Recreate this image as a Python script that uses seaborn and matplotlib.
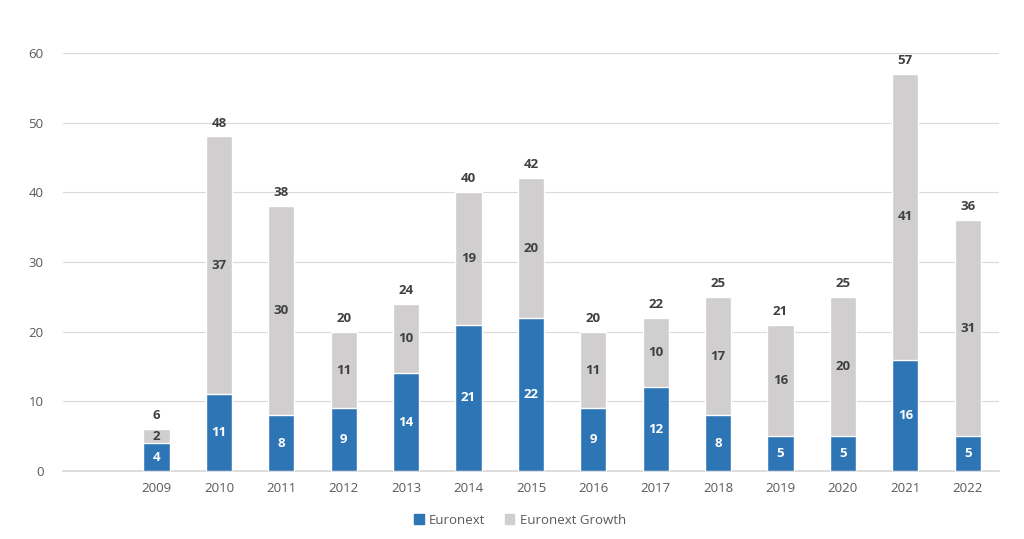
import matplotlib
matplotlib.use("Agg")
import matplotlib.pyplot as plt
import matplotlib.patches as mpatches
import numpy as np
import pandas as pd
import seaborn as sns

# first slot is left empty in the original chart
years = ["", "2009", "2010", "2011", "2012", "2013", "2014", "2015",
         "2016", "2017", "2018", "2019", "2020", "2021", "2022"]
euronext = [np.nan, 4, 11, 8, 9, 14, 21, 22, 9, 12, 8, 5, 5, 16, 5]
growth = [np.nan, 2, 37, 30, 11, 10, 19, 20, 11, 10, 17, 16, 20, 41, 31]

BLUE = "#2E75B6"
GREY = "#D0CECE"
TICK = "#595959"
DARK = "#404040"

df = pd.DataFrame({"year": years, "euronext": euronext, "growth": growth})
df["total"] = df["euronext"] + df["growth"]

sns.set_theme(style="white")
plt.rcParams["font.family"] = ["Open Sans", "DejaVu Sans"]

fig = plt.figure(figsize=(10.24, 5.39), dpi=100)
ax = fig.add_axes([0.0615, 0.126, 0.914, 0.776])

sns.barplot(data=df, x="year", y="total", order=years, color=GREY,
            width=0.42, saturation=1, ax=ax, zorder=2)
sns.barplot(data=df, x="year", y="euronext", order=years, color=BLUE,
            width=0.42, saturation=1, ax=ax, zorder=3)

# labels
for i, row in df.iterrows():
    if np.isnan(row["total"]):
        continue
    ax.text(i, row["euronext"] / 2, f"{int(row['euronext'])}", ha="center",
            va="center", color="white", fontsize=9.5, fontweight="bold", zorder=4)
    ax.text(i, row["euronext"] + row["growth"] / 2, f"{int(row['growth'])}",
            ha="center", va="center", color=DARK, fontsize=9.5,
            fontweight="bold", zorder=4)
    ax.text(i, row["total"] + 1.0, f"{int(row['total'])}", ha="center",
            va="bottom", color=DARK, fontsize=9.5, fontweight="bold", zorder=4)

ax.set_ylim(0, 60)
ax.set_xlim(-0.5, len(years) - 0.5)
ax.set_yticks(range(0, 61, 10))
ax.yaxis.grid(True, color="#D9D9D9", linewidth=0.8, zorder=0)
ax.set_axisbelow(True)
ax.set_xlabel("")
ax.set_ylabel("")
for s in ["top", "right", "left"]:
    ax.spines[s].set_visible(False)
ax.spines["bottom"].set_color("#D9D9D9")
ax.tick_params(axis="both", length=0, labelsize=9.5, labelcolor=TICK)
ax.tick_params(axis="y", pad=14)
ax.tick_params(axis="x", pad=8)

handles = [mpatches.Patch(color=BLUE, label="Euronext"),
           mpatches.Patch(color=GREY, label="Euronext Growth")]
fig.legend(handles=handles, loc="center", bbox_to_anchor=(0.508, 0.035),
           ncol=2, frameon=False, fontsize=9.5, handlelength=0.7,
           handleheight=0.7, handletextpad=0.4, columnspacing=1.5,
           labelcolor=TICK)

fig.savefig("out.png", dpi=100)
